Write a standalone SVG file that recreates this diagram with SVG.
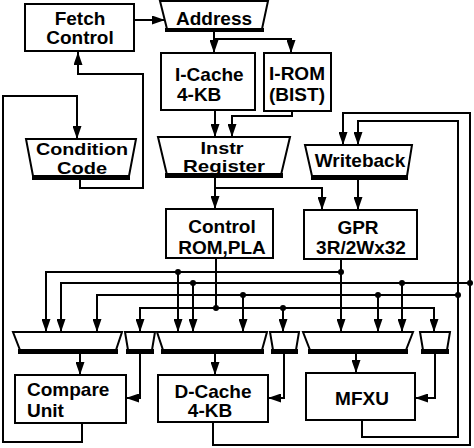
<svg xmlns="http://www.w3.org/2000/svg" width="474" height="448" viewBox="0 0 474 448">
<defs>
<style>
.box{fill:#fff;stroke:#000;stroke-width:2}
.bar{fill:#000}
.t{font-family:"Liberation Sans",Arial,sans-serif;font-weight:bold;font-size:19px;fill:#000;text-anchor:middle}
.tt{font-size:17px}
.ts{text-anchor:start}
.w{fill:none;stroke:#000;stroke-width:2}
.dot{fill:#000}
</style>
<marker id="a" viewBox="0 0 13 9" refX="13" refY="4.5" markerWidth="13" markerHeight="9" orient="auto" markerUnits="userSpaceOnUse">
<path d="M0,0 L13,4.5 L0,9 Z" fill="#000"/>
</marker>
</defs>
<rect width="474" height="448" fill="#fff"/>

<g id="fetch-control">
<rect class="box" x="25" y="4" width="109" height="47"/>
<text class="t" x="80" y="25">Fetch</text>
<text class="t" x="80" y="44">Control</text>
</g>

<g id="address">
<polygon class="box" points="160,1 268,1 262,29 167,29"/>
<rect class="bar" x="165" y="28" width="99" height="4"/>
<text class="t" x="214" y="25">Address</text>
</g>

<g id="i-cache">
<rect class="box" x="161" y="53" width="94" height="57"/>
<text class="t ts" x="175" y="81">I-Cache</text>
<text class="t ts" x="177" y="101">4-KB</text>
</g>

<g id="i-rom">
<rect class="box" x="264" y="53" width="67" height="58"/>
<text class="t" x="297" y="80">I-ROM</text>
<text class="t" x="297" y="101">(BIST)</text>
</g>

<g id="condition-code">
<polygon class="box" points="26,139 136,139 129,176 33,176"/>
<rect class="bar" x="32" y="175" width="98" height="5"/>
<text class="t tt" x="82" y="155" textLength="92" lengthAdjust="spacingAndGlyphs">Condition</text>
<text class="t tt" x="82" y="174" textLength="50" lengthAdjust="spacingAndGlyphs">Code</text>
</g>

<g id="instr-register">
<polygon class="box" points="158,137 290,137 281,175 167,175"/>
<rect class="bar" x="165" y="173" width="118" height="5"/>
<text class="t tt" x="222" y="154" textLength="43" lengthAdjust="spacingAndGlyphs">Instr</text>
<text class="t tt" x="224" y="172" textLength="82" lengthAdjust="spacingAndGlyphs">Register</text>
</g>

<g id="writeback">
<polygon class="box" points="305,145 412,145 407,176 312,176"/>
<rect class="bar" x="311" y="175" width="97" height="5"/>
<text class="t" x="360" y="167">Writeback</text>
</g>

<g id="control-rom">
<rect class="box" x="166" y="209" width="107" height="49"/>
<text class="t" x="222" y="233">Control</text>
<text class="t" x="222" y="254">ROM,PLA</text>
</g>

<g id="gpr">
<rect class="box" x="304" y="210" width="113" height="49"/>
<text class="t" x="358" y="234">GPR</text>
<text class="t" x="361" y="254">3R/2Wx32</text>
</g>

<g id="mux1">
<polygon class="box" points="13,332 122,332 116,350 20,350"/>
<rect class="bar" x="18" y="349" width="100" height="5"/>
</g>
<g id="mux2">
<polygon class="box" points="125,332 155,332 152,350 128,350"/>
<rect class="bar" x="126" y="349" width="28" height="5"/>
</g>
<g id="mux3">
<polygon class="box" points="157,332 267,332 262,350 163,350"/>
<rect class="bar" x="161" y="349" width="103" height="5"/>
</g>
<g id="mux4">
<polygon class="box" points="270,332 299,332 296,350 273,350"/>
<rect class="bar" x="271" y="349" width="27" height="5"/>
</g>
<g id="mux5">
<polygon class="box" points="303,332 413,332 406,350 310,350"/>
<rect class="bar" x="308" y="349" width="100" height="5"/>
</g>
<g id="mux6">
<polygon class="box" points="420,332 450,332 447,350 423,350"/>
<rect class="bar" x="421" y="349" width="28" height="5"/>
</g>

<g id="compare-unit">
<rect class="box" x="15" y="375" width="111" height="48"/>
<text class="t ts" x="27" y="396">Compare</text>
<text class="t ts" x="27" y="417">Unit</text>
</g>

<g id="d-cache">
<rect class="box" x="158" y="375" width="110" height="47"/>
<text class="t" x="213" y="398">D-Cache</text>
<text class="t" x="210" y="417">4-KB</text>
</g>

<g id="mfxu">
<rect class="box" x="306" y="373" width="109" height="47"/>
<text class="t" x="362" y="405">MFXU</text>
</g>

<g id="connectors">
<path class="w" d="M134,20 H165" marker-end="url(#a)"/>
<path class="w" d="M214,32 V53" marker-end="url(#a)"/>
<path class="w" d="M214,39 H291 V53" marker-end="url(#a)"/>
<path class="w" d="M215,110 V137" marker-end="url(#a)"/>
<path class="w" d="M292,111 V116 H232 V137" marker-end="url(#a)"/>
<path class="w" d="M215,178 V209" marker-end="url(#a)"/>
<path class="w" d="M215,188 H322 V210" marker-end="url(#a)"/>
<path class="w" d="M358,180 V210" marker-end="url(#a)"/>
<path class="w" d="M80,180 V188 H143 V74 H78 V52" marker-end="url(#a)"/>
<path class="w" d="M82,423 V442 H3 V96 H77 V139" marker-end="url(#a)"/>
<path class="w" d="M213,422 V445 H470 V113 H343 V145" marker-end="url(#a)"/>
<path class="w" d="M362,420 V437 H458 V121 H358 V145" marker-end="url(#a)"/>
<path class="w" d="M341,259 V332" marker-end="url(#a)"/>
<path class="w" d="M341,272 H46 V332" marker-end="url(#a)"/>
<path class="w" d="M178,272 V332" marker-end="url(#a)"/>
<path class="w" d="M470,283 H61 V332" marker-end="url(#a)"/>
<path class="w" d="M193,283 V332" marker-end="url(#a)"/>
<path class="w" d="M402,283 V332" marker-end="url(#a)"/>
<path class="w" d="M458,295 H97 V332" marker-end="url(#a)"/>
<path class="w" d="M243,295 V332" marker-end="url(#a)"/>
<path class="w" d="M378,295 V332" marker-end="url(#a)"/>
<path class="w" d="M216,258 V308"/>
<path class="w" d="M140,332 V308 H434 V332" marker-end="url(#a)"/>
<path class="w" d="M140,309 V332" marker-end="url(#a)"/>
<path class="w" d="M283,308 V332" marker-end="url(#a)"/>
<path class="w" d="M80,354 V375" marker-end="url(#a)"/>
<path class="w" d="M140,354 V398 H126" marker-end="url(#a)"/>
<path class="w" d="M215,354 V375" marker-end="url(#a)"/>
<path class="w" d="M284,354 V398 H268" marker-end="url(#a)"/>
<path class="w" d="M356,354 V373" marker-end="url(#a)"/>
<path class="w" d="M435,354 V398 H415" marker-end="url(#a)"/>
<circle class="dot" cx="341" cy="272" r="3"/>
<circle class="dot" cx="178" cy="272" r="3"/>
<circle class="dot" cx="193" cy="283" r="3"/>
<circle class="dot" cx="402" cy="283" r="3"/>
<circle class="dot" cx="470" cy="283" r="3"/>
<circle class="dot" cx="243" cy="295" r="3"/>
<circle class="dot" cx="378" cy="295" r="3"/>
<circle class="dot" cx="458" cy="295" r="3"/>
<circle class="dot" cx="216" cy="308" r="3"/>
<circle class="dot" cx="283" cy="308" r="3"/>
</g>
</svg>
